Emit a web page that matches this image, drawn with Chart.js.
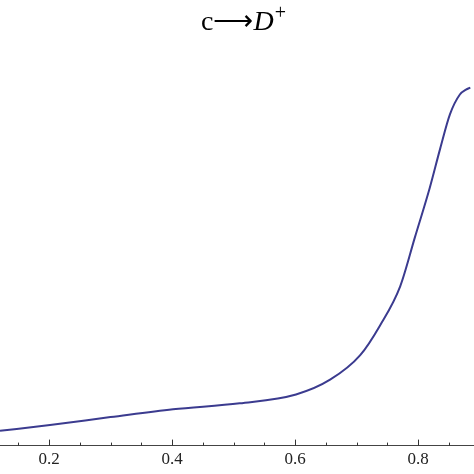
<!DOCTYPE html><html><head><script src="https://cdn.jsdelivr.net/npm/chart.js"></script>
<style>html,body{margin:0;background:#fff}#w{width:474px;height:474px}</style></head><body><div id="w"><canvas id="c"></canvas></div>
<script>
const xs=[0.1203,0.2016,0.2016,0.3,0.4016,0.51,0.6016,0.657,0.706,0.738,0.771,0.795,0.819,0.836,0.852,0.868,0.878,0.885];
const ys=[15,21,21,29,37,43,52,67,92,122,162,212,262,302,337,357,362,364];
const xTicks=[0.2,0.4,0.6,0.8];
const minorTicks=[0.15,0.25,0.3,0.35,0.45,0.5,0.55,0.65,0.7,0.75,0.85];
const pts=xs.map((x,i)=>({x,y:ys[i]})).filter((p,i,a)=>i===0||p.x!==a[i-1].x);
const deco={id:'deco',afterDraw(ch){const c=ch.ctx,sx=ch.scales.x,b=ch.chartArea.bottom;c.save();c.strokeStyle='#333';c.lineWidth=1;
const t=(v,l)=>{const p=Math.round(sx.getPixelForValue(v))+0.5;c.beginPath();c.moveTo(p,b);c.lineTo(p,b-l);c.stroke();};
xTicks.forEach(v=>t(v,6));minorTicks.forEach(v=>t(v,3));
c.fillStyle='#000';c.textBaseline='alphabetic';
const f1='28px "Liberation Serif"',f2='italic 28px "Liberation Serif"',f3='20px "Liberation Serif"';
c.font=f1;const w1=c.measureText('c⟶').width;c.font=f2;const w2=c.measureText('D').width;c.font=f3;const w3=c.measureText('+').width;
let x=243-(w1+w2+w3)/2;const y=30;c.font=f1;c.fillText('c⟶',x,y);x+=w1;c.font=f2;c.fillText('D',x,y);x+=w2+1;c.font=f3;c.fillText('+',x,y-11);
c.restore();}};
new Chart(document.getElementById('c'),{type:'line',
data:{datasets:[{data:pts,borderColor:'#3b3b8f',borderWidth:2,pointRadius:0,cubicInterpolationMode:'monotone'}]},
options:{responsive:true,maintainAspectRatio:false,animation:false,
plugins:{legend:{display:false},tooltip:{enabled:false},
title:{display:true,text:'c⟶D⁺',font:{family:'Liberation Serif',size:26},color:'rgba(0,0,0,0)',padding:{top:4,bottom:20}}},
scales:{x:{type:'linear',min:0.1203,max:0.891,afterBuildTicks:a=>{a.ticks=xTicks.map(v=>({value:v}))},
grid:{display:false,drawTicks:false},border:{color:'#444'},
ticks:{color:'#222',font:{family:'Liberation Serif',size:17},callback:v=>v.toFixed(1),maxRotation:0,padding:4}},
y:{display:false,min:0,max:397}}},plugins:[deco]});
</script></body></html>
